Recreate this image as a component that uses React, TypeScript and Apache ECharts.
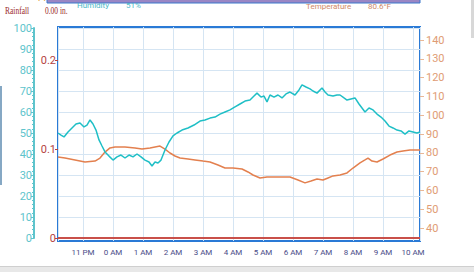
import React, { useEffect, useRef } from "react";
import * as echarts from "echarts";

// Humidity (%) readings
const humTimes = [
  "22:10", "22:16", "22:22", "22:30", "22:38", "22:46", "22:54", "23:02", "23:08", "23:14",
  "23:20", "23:26", "23:32", "23:38", "23:44", "23:52", "00:00", "00:08", "00:16", "00:24",
  "00:32", "00:40", "00:48", "00:56", "01:04", "01:12", "01:18", "01:24", "01:30", "01:36",
  "01:44", "01:52", "02:00", "02:08", "02:18", "02:30", "02:42", "02:54", "03:04", "03:14",
  "03:24", "03:34", "03:44", "03:54", "04:04", "04:14", "04:24", "04:34", "04:42", "04:48",
  "04:56", "05:02", "05:08", "05:14", "05:22", "05:30", "05:38", "05:46", "05:54", "06:04",
  "06:12", "06:18", "06:26", "06:34", "06:40", "06:48", "06:58", "07:04", "07:10", "07:20",
  "07:28", "07:34", "07:42", "07:48", "07:56", "08:04", "08:12", "08:18", "08:24", "08:32",
  "08:40", "08:48", "08:56", "09:04", "09:12", "09:20", "09:28", "09:36", "09:44", "09:52",
  "10:00", "10:08", "10:14",
];
const humValues = [
  50.0, 49.0, 48.1, 50.5, 52.4, 54.3, 54.8, 52.9, 53.8, 56.2,
  54.3, 51.4, 46.7, 43.8, 41.0, 39.0, 37.1, 38.6, 39.5, 38.1,
  39.5, 38.6, 40.0, 38.6, 37.1, 36.2, 34.3, 36.2, 35.7, 37.1,
  41.9, 45.7, 48.6, 50.0, 51.4, 52.4, 53.8, 55.7, 56.2, 57.1,
  57.6, 59.0, 60.0, 61.0, 62.4, 63.8, 65.2, 65.7, 67.6, 69.0,
  67.1, 67.6, 64.8, 68.1, 67.1, 68.1, 66.7, 68.6, 69.5, 68.1,
  70.5, 72.9, 71.9, 71.0, 70.0, 69.0, 71.4, 69.5, 68.1, 67.6,
  68.1, 68.1, 66.7, 65.7, 66.2, 66.7, 63.8, 61.9, 60.0, 61.9,
  61.0, 59.0, 57.6, 55.7, 53.3, 52.4, 51.4, 51.0, 49.5, 51.0,
  50.5, 50.0, 50.5,
];

// Temperature (°F) readings
const tempTimes = [
  "22:10", "22:24", "22:44", "23:04", "23:24", "23:34", "23:44", "23:54", "00:04", "00:24",
  "00:44", "00:58", "01:14", "01:24", "01:34", "01:44", "01:54", "02:04", "02:14", "02:30",
  "02:44", "03:00", "03:14", "03:30", "03:44", "04:00", "04:18", "04:30", "04:40", "04:54",
  "05:08", "05:24", "05:40", "05:54", "06:10", "06:24", "06:36", "06:48", "07:00", "07:10",
  "07:20", "07:34", "07:48", "08:00", "08:14", "08:24", "08:30", "08:38", "08:48", "09:00",
  "09:14", "09:28", "09:40", "09:54", "10:14",
];
const tempValues = [
  77.8, 77.2, 76.2, 75.1, 75.6, 77.2, 80.4, 82.6, 83.1, 83.1,
  82.6, 82.0, 82.6, 83.1, 83.6, 82.0, 79.9, 78.3, 77.2, 76.7,
  76.2, 75.6, 75.1, 73.5, 71.9, 71.9, 71.4, 69.8, 68.2, 66.6,
  67.1, 67.1, 67.1, 67.1, 65.5, 64.0, 65.0, 66.1, 65.5, 66.6,
  67.7, 68.2, 69.3, 71.9, 74.6, 76.2, 77.2, 75.6, 75.1, 76.7,
  78.8, 80.4, 81.0, 81.5, 81.5,
];

// Rainfall (in.)
const rainTimes = ["22:10", "10:14"];
const rainValues = [0, 0];

const rangeStart = "22:10";
const rangeEnd = "10:14";

const humTicks = { min: 0, max: 100, interval: 10 };
const tempTicks = { min: 40, max: 140, interval: 10 };
const rainTicks = { min: 0, max: 0.2, interval: 0.1 };

const headerTexts = {
  humidityLabel: "Humidity",
  humidityValue: "51%",
  temperatureLabel: "Temperature",
  temperatureValue: "80.6°F",
  rainfallLabel: "Rainfall",
  rainfallValue: "0.00 in.",
};

const toTs = (hm: string) => {
  const [h, m] = hm.split(":").map(Number);
  const day = h >= 12 ? 0 : 1;
  return new Date(2024, 0, 1 + day, h, m).getTime();
};

const zip = (times: string[], vals: number[]) =>
  times.map((t, i) => [toTs(t), vals[i]]);

export default function App() {
  const ref = useRef<HTMLDivElement>(null);

  useEffect(() => {
    if (!ref.current) return;
    const chart = echarts.init(ref.current, undefined, { renderer: "svg" });
    const xMin = toTs(rangeStart);
    const xMax = toTs(rangeEnd);
    const font = "Roboto";
    const gridBase = { left: 58, right: 54 };

    const hiddenX = (gi: number) => ({
      type: "time" as const,
      gridIndex: gi,
      min: xMin,
      max: xMax,
      show: false,
    });

    chart.setOption({
      animation: false,
      backgroundColor: "#ffffff",
      grid: [
        {
          ...gridBase,
          top: 27,
          bottom: 31,
          show: true,
          borderColor: "#2a7ad6",
          borderWidth: 2,
          backgroundColor: "transparent",
        },
        { ...gridBase, top: 28, bottom: 34 },
        { ...gridBase, top: 40, bottom: 44 },
        { ...gridBase, top: 60, bottom: 34 },
      ],
      xAxis: [
        {
          type: "time",
          gridIndex: 0,
          min: xMin,
          max: xMax,
          minInterval: 3600 * 1000,
          maxInterval: 3600 * 1000,
          axisLine: { show: false },
          axisTick: { show: false },
          splitLine: { show: true, lineStyle: { color: "#d5e5f3", width: 1 } },
          axisLabel: {
            color: "#4a4c88",
            fontSize: 8,
            fontFamily: font,
            margin: 7,
            showMinLabel: false,
            showMaxLabel: false,
            formatter: (v: number) => {
              const d = new Date(v);
              if (d.getMinutes() !== 0) return "";
              const h = d.getHours();
              return h < 12 ? `${h} AM` : `${h - 12} PM`;
            },
          },
        },
        hiddenX(1),
        hiddenX(2),
        hiddenX(3),
      ],
      yAxis: [
        { type: "value", gridIndex: 0, min: 0, max: 1, show: false },
        {
          type: "value",
          gridIndex: 1,
          ...humTicks,
          position: "left",
          offset: 24,
          axisLine: { show: true, lineStyle: { color: "#5ec4cc", width: 2 } },
          axisTick: { show: true, length: 3, lineStyle: { color: "#5ec4cc" } },
          minorTick: { show: true, splitNumber: 5, length: 2, lineStyle: { color: "#5ec4cc" } },
          axisLabel: { color: "#5ec4cc", fontSize: 11, fontFamily: font, margin: 2 },
          splitLine: { show: true, lineStyle: { color: "#d5e5f3", width: 1 } },
        },
        {
          type: "value",
          gridIndex: 3,
          ...rainTicks,
          position: "left",
          offset: 0,
          axisLine: { show: false },
          axisTick: { show: true, length: 3, lineStyle: { color: "#b5443f" } },
          axisLabel: { color: "#b5443f", fontSize: 11, fontFamily: font, margin: 2 },
          splitLine: { show: false },
        },
        {
          type: "value",
          gridIndex: 2,
          ...tempTicks,
          position: "right",
          axisLine: { show: false },
          axisTick: { show: true, length: 4, lineStyle: { color: "#e8b898" } },
          axisLabel: { color: "#e09c74", fontSize: 11, fontFamily: font, margin: 6 },
          splitLine: { show: false },
        },
      ],
      series: [
        {
          name: "Rainfall",
          type: "line",
          xAxisIndex: 3,
          yAxisIndex: 2,
          data: zip(rainTimes, rainValues),
          showSymbol: false,
          symbol: "none",
          clip: false,
          lineStyle: { color: "#c9504a", width: 2 },
          z: 3,
        },
        {
          name: "Temperature",
          type: "line",
          xAxisIndex: 2,
          yAxisIndex: 3,
          data: zip(tempTimes, tempValues),
          showSymbol: false,
          symbol: "none",
          lineStyle: { color: "#e3804f", width: 1.5 },
          z: 4,
        },
        {
          name: "Humidity",
          type: "line",
          xAxisIndex: 1,
          yAxisIndex: 1,
          data: zip(humTimes, humValues),
          showSymbol: false,
          symbol: "none",
          lineStyle: { color: "#1fbfc6", width: 1.5 },
          z: 5,
        },
      ],
      graphic: [
        {
          type: "rect",
          shape: { x: 47, y: -3, width: 373, height: 6 },
          style: { fill: "#9a86c4", stroke: "#3a78cc", lineWidth: 1 },
        },
        {
          type: "text",
          x: 36,
          y: -8,
          style: { text: "11", fill: "#e0a040", fontSize: 10, fontFamily: font },
        },
        {
          type: "text",
          x: 77,
          y: 1,
          style: { text: headerTexts.humidityLabel, fill: "#4ab8c8", fontSize: 8, fontFamily: font },
        },
        {
          type: "text",
          x: 126,
          y: 1,
          style: { text: headerTexts.humidityValue, fill: "#4ab8c8", fontSize: 8, fontFamily: font },
        },
        {
          type: "text",
          x: 306,
          y: 2,
          style: { text: headerTexts.temperatureLabel, fill: "#d08a68", fontSize: 8, fontFamily: font },
        },
        {
          type: "text",
          x: 368,
          y: 2,
          style: { text: headerTexts.temperatureValue, fill: "#d08a68", fontSize: 8, fontFamily: font },
        },
        {
          type: "text",
          x: 5,
          y: 6,
          scaleX: 0.75,
          style: {
            text: headerTexts.rainfallLabel,
            fill: "#9a2a2a",
            fontSize: 10,
            fontFamily: "Liberation Serif",
          },
        },
        {
          type: "text",
          x: 45,
          y: 6,
          scaleX: 0.75,
          style: {
            text: headerTexts.rainfallValue,
            fill: "#9a2a2a",
            fontSize: 10,
            fontFamily: "Liberation Serif",
          },
        },
        {
          type: "rect",
          shape: { x: 0, y: 86, width: 2, height: 99 },
          style: { fill: "#86a8c4" },
        },
        {
          type: "rect",
          shape: { x: 471, y: 0, width: 3, height: 38 },
          style: { fill: "#d8d8d8" },
        },
        {
          type: "rect",
          shape: { x: 0, y: 266, width: 474, height: 6 },
          style: { fill: "#e8e8e8" },
        },
        {
          type: "line",
          shape: { x1: 0, y1: 266.5, x2: 474, y2: 266.5 },
          style: { stroke: "#cfcfcf", lineWidth: 1 },
        },
      ],
    });

    return () => chart.dispose();
  }, []);

  return (
    <div
      ref={ref}
      style={{ position: "absolute", left: 0, top: 0, width: 474, height: 272 }}
    />
  );
}
